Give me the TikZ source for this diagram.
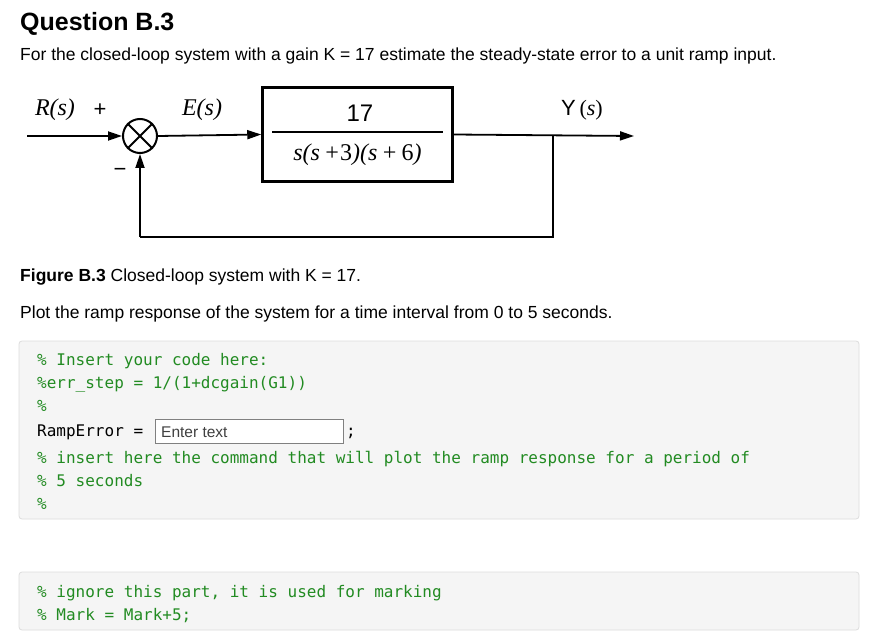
\documentclass[tikz,border=0pt]{standalone}
\usepackage{fontspec}
\setmainfont{Liberation Sans}
\setmonofont{DejaVu Sans Mono}
\newfontfamily\serifit{Liberation Serif}
\usetikzlibrary{arrows.meta}
\definecolor{cmt}{RGB}{34,139,34}
\definecolor{boxbg}{RGB}{245,245,245}
\definecolor{boxbd}{RGB}{221,221,221}
\tikzset{
  sig/.style={line width=1.8pt,-{Triangle[length=14pt,width=9pt]}},
  wire/.style={line width=1.8pt},
  txt/.style={anchor=base west,inner sep=0pt,font=\fontsize{17.5}{20}\selectfont},
  code/.style={anchor=base west,inner sep=0pt,font=\fontsize{16}{18}\ttfamily},
  dia/.style={inner sep=0pt,font=\fontsize{24}{26}\serifit\itshape},
  cbox/.style={fill=boxbg,draw=boxbd,rounded corners=3pt,line width=0.8pt}
}
\begin{document}
\begin{tikzpicture}[x=1pt,y=-1pt]
\useasboundingbox[fill=white] (0,0) rectangle (876,639);
\node[txt,font=\fontsize{25}{28}\selectfont\bfseries] (title) at (20,31) {Question B.3};
\node[txt] (q) at (20,61) {For the closed-loop system with a gain K = 17 estimate the steady-state error to a unit ramp input.};
% block diagram
\coordinate (in) at (27,136);
\node[draw,circle,line width=2pt,minimum size=34pt,inner sep=0pt] (sum) at (140,136) {};
\draw[line width=2pt] (sum.north west) -- (sum.south east) (sum.north east) -- (sum.south west);
\node[draw,line width=2.5pt,minimum width=190pt,minimum height=94pt,inner sep=0pt] (G) at (357.5,134.5) {};
\node[inner sep=0pt,font=\fontsize{24}{26}\selectfont] (num) at (360,113) {17};
\draw[line width=1.5pt] (272,132) -- (443,132);
\node[dia] (den) at (357.5,155) {s(s\,+\upshape 3\itshape)(s\,+\,\upshape 6\itshape)};
\coordinate (out) at (634,136);
\coordinate (tap) at (553,136);
\coordinate (fb1) at (553,237);
\coordinate (fb2) at (140,237);
\draw[sig] (in) -- (sum.west);
\draw[sig] (sum.east) -- (G.west);
\draw[sig] (G.east) -- (out);
\draw[wire] (tap) -- (fb1) -- (fb2);
\draw[sig] (fb2) -- (sum.south);
\node[dia] (R) at (55,110) {R(s)};
\node[inner sep=0pt,font=\fontsize{22}{24}\selectfont] (plus) at (100,110) {+};
\node[dia] (E) at (202,110) {E(s)};
\node[inner sep=0pt,font=\fontsize{22}{24}\selectfont] (Y) at (582,110) {Y\,\serifit(\itshape s\upshape)};
\node[inner sep=0pt,font=\fontsize{22}{24}\selectfont] (minus) at (120,172) {−};
% captions
\node[txt] (fig) at (20,282) {\textbf{Figure B.3} Closed-loop system with K = 17.};
\node[txt] (plot) at (20,319) {Plot the ramp response of the system for a time interval from 0 to 5 seconds.};
% code box 1
\draw[cbox] (19,341) rectangle (859,519);
\node[code,text=cmt] (c1) at (37,365) {\% Insert your code here:};
\node[code,text=cmt] (c2) at (37,388) {\%err\_step = 1/(1+dcgain(G1))};
\node[code,text=cmt] (c3) at (37,411) {\%};
\node[code] (c4) at (37,436) {RampError =};
\node[draw=gray,fill=white,line width=0.6pt,minimum width=188pt,minimum height=24pt,inner sep=0pt] (inp) at (249,431) {};
\node[anchor=west,inner sep=0pt,font=\fontsize{15.5}{17}\selectfont,text=black!75] (ph) at (161,432) {Enter text};
\node[code] (semi) at (346,436) {;};
\node[code,text=cmt] (c5) at (37,463) {\% insert here the command that will plot the ramp response for a period of};
\node[code,text=cmt] (c6) at (37,486) {\% 5 seconds};
\node[code,text=cmt] (c7) at (37,509) {\%};
% code box 2
\draw[cbox] (19,572) rectangle (859,630);
\node[code,text=cmt] (d1) at (37,597) {\% ignore this part, it is used for marking};
\node[code,text=cmt] (d2) at (37,620) {\% Mark = Mark+5;};
\end{tikzpicture}
\end{document}
